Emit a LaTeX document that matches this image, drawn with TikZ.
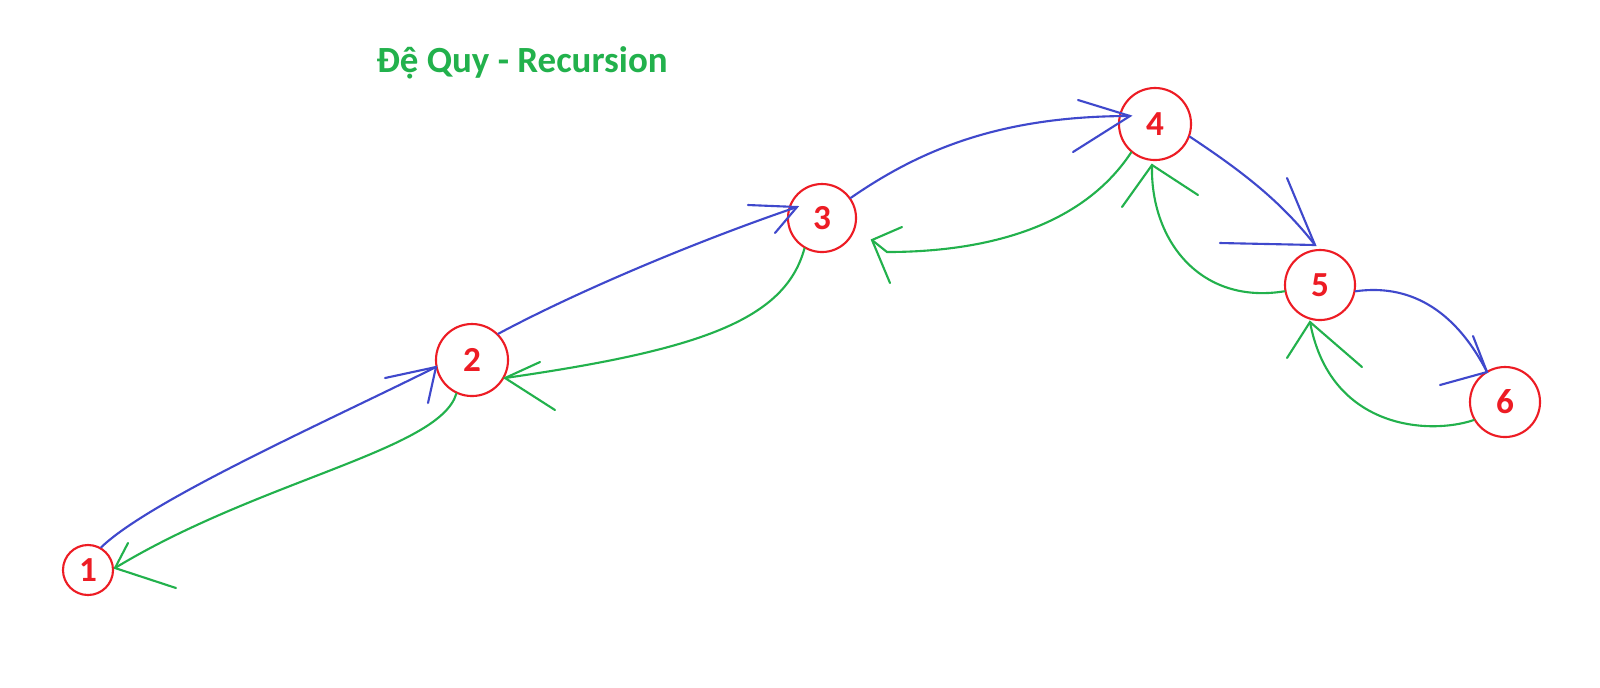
\documentclass[tikz,border=0pt]{standalone}
\usepackage{fontspec}
\setmainfont{Carlito}
\definecolor{rd}{RGB}{237,28,36}
\definecolor{bl}{RGB}{63,72,204}
\definecolor{gr}{RGB}{34,177,76}
\begin{document}
\begin{tikzpicture}[x=0.01cm,y=-0.01cm,
  nd/.style={draw=rd,line width=0.6pt,circle,inner sep=0pt,text=rd,font=\bfseries\fontsize{10}{10}\selectfont},
  bw/.style={draw=bl,line width=0.6pt,line cap=round},
  gw/.style={draw=gr,line width=0.6pt,line cap=round}]
\useasboundingbox[fill=white] (0,0) rectangle (1600,687);
\node[text=gr,font=\bfseries\fontsize{10.5}{10.5}\selectfont] (t) at (522,63) {Đệ Quy - Recursion};
\node[nd,minimum size=0.5cm] (n1) at (88,570) {1};
\node[nd,minimum size=0.72cm] (n2) at (472,360) {2};
\node[nd,minimum size=0.68cm] (n3) at (822,218) {3};
\node[nd,minimum size=0.72cm] (n4) at (1155,124) {4};
\node[nd,minimum size=0.7cm] (n5) at (1320,285) {5};
\node[nd,minimum size=0.7cm] (n6) at (1505,402) {6};
% blue forward calls
\coordinate (a1) at (436,367); \coordinate (b1a) at (385,378); \coordinate (b1b) at (428,403);
\draw[bw] (n1.60) .. controls (150,500) and (330,420) .. (a1);
\draw[bw] (b1a) -- (a1) -- (b1b);
\coordinate (a2) at (797,207); \coordinate (b2a) at (748,205); \coordinate (b2b) at (775,233);
\draw[bw] (n2.45) .. controls (580,290) and (700,240) .. (a2);
\draw[bw] (b2a) -- (a2) -- (b2b);
\coordinate (a3) at (1130,116); \coordinate (b3a) at (1078,100); \coordinate (b3b) at (1073,152);
\draw[bw] (n3.35) .. controls (920,150) and (1000,116) .. (a3);
\draw[bw] (b3a) -- (a3) -- (b3b);
\coordinate (a4) at (1315,245); \coordinate (b4a) at (1287,178); \coordinate (b4b) at (1220,243);
\draw[bw] (n4.-20) .. controls (1240,170) and (1280,200) .. (a4);
\draw[bw] (b4a) -- (a4) -- (b4b);
\coordinate (a5) at (1487,372); \coordinate (b5a) at (1473,336); \coordinate (b5b) at (1440,385);
\draw[bw] (n5.-10) .. controls (1400,285) and (1450,300) .. (a5);
\draw[bw] (b5a) -- (a5) -- (b5b);
% green returns
\coordinate (c5) at (1310,322); \coordinate (d5a) at (1287,358); \coordinate (d5b) at (1362,367);
\draw[gw] (n6.-150) .. controls (1430,435) and (1330,430) .. (c5);
\draw[gw] (d5a) -- (c5) -- (d5b);
\coordinate (c4) at (1152,165); \coordinate (d4a) at (1122,207); \coordinate (d4b) at (1198,195);
\draw[gw] (n5.-170) .. controls (1200,305) and (1150,240) .. (c4);
\draw[gw] (d4a) -- (c4) -- (d4b);
\coordinate (c3) at (872,240); \coordinate (d3a) at (902,227); \coordinate (d3b) at (890,283);
\draw[gw] (n4.-130) .. controls (1080,230) and (980,252) .. (887,252) -- (c3);
\draw[gw] (d3a) -- (c3) -- (d3b);
\coordinate (c2) at (505,378); \coordinate (d2a) at (540,362); \coordinate (d2b) at (555,410);
\draw[gw] (n3.-120) .. controls (785,320) and (700,350) .. (c2);
\draw[gw] (d2a) -- (c2) -- (d2b);
\coordinate (c1) at (115,568); \coordinate (d1a) at (128,543); \coordinate (d1b) at (176,588);
\draw[gw] (n2.-115) .. controls (440,450) and (260,480) .. (c1);
\draw[gw] (d1a) -- (c1) -- (d1b);
\end{tikzpicture}
\end{document}
